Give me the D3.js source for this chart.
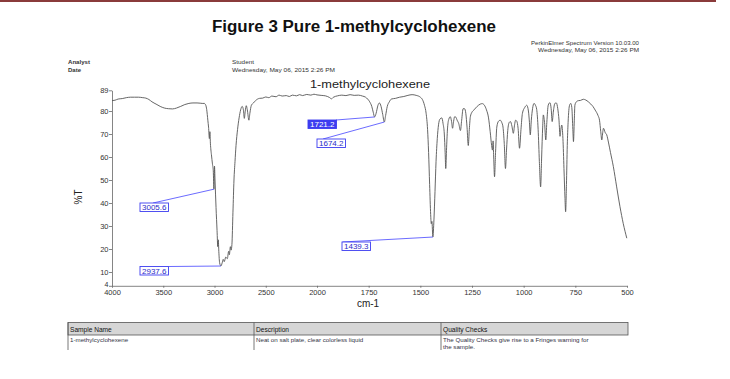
<!DOCTYPE html>
<html><head><meta charset="utf-8">
<script src="https://cdn.jsdelivr.net/npm/d3@7/dist/d3.min.js"></script>
<style>
html,body{margin:0;padding:0;background:#fff;}
svg{display:block;font-family:"Liberation Sans",Arial,sans-serif;}
</style></head>
<body>
<svg id="chart" width="730" height="379"></svg>
<script>
// ---- data ----
const wavenumbers = [4000,3970,3940,3900,3860,3820,3780,3740,3700,3670,3640,3610,3570,3530,3490,3450,3410,3370,3330,3290,3250,3210,3170,3140,3120,3100,3085,3076,3065,3058,3050,3045,3040,3030,3020,3012,3005.6,3000,2995,2985,2975,2968,2963,2958,2950,2937.6,2925,2915,2905,2890,2875,2862,2855,2845,2838,2830,2820,2810,2800,2790,2775,2760,2745,2730,2718,2709,2700,2690,2680,2664,2655,2640,2620,2600,2560,2530,2500,2470,2440,2400,2370,2340,2300,2270,2240,2200,2170,2140,2100,2060,2030,2000,1980,1960,1940,1930,1920,1900,1880,1860,1840,1820,1800,1780,1765,1755,1745,1735,1728,1721.2,1714,1705,1698,1690,1682,1674.2,1668,1660,1650,1640,1620,1600,1580,1560,1540,1520,1500,1490,1480,1472,1465,1460,1455,1450,1447,1444,1439.3,1434,1429,1424,1418,1412,1405,1396,1390,1384,1380,1377,1373,1368,1362,1355,1349,1344,1339,1334,1328,1322,1314,1306,1300,1293,1286,1280,1274,1268,1263,1258,1250,1240,1225,1210,1200,1190,1180,1170,1162,1155,1151,1148,1145,1141,1136,1130,1122,1114,1106,1100,1094,1088,1083,1077,1070,1064,1057,1050,1044,1039,1033,1027,1020,1013,1006,995,985,977,972,968,963,957,950,943,937,930,924,918,913,908,905,899,893,888,881,873,867,862,856,849,842,835,829,824,820,816,810,805,800,797,793,789,785,778,772,767,762,759,755,752,745,735,725,711,700,687,675,665,654,640,633,627,622,617,614,605,598,590,580,566,550,534,518,501];
const transmittance = [84.5,84.7,85.2,85.4,85.8,86,86,86,85.8,85.6,85,84,83,82,81.3,81,80.9,81.3,82,82.8,83.3,83.5,83.5,83.4,83.3,83.3,82.5,80.6,76,73,68,71,66,61,57,54,46,56,50,38,28,21,24,19,14,12.6,14,15.5,14.5,16.5,15.8,19,17.5,21,19.5,22,36,50,58,65,72,77,80.5,82,80.5,76.8,80,82.3,80.5,76,79,82.5,83.5,84.5,85.5,85.6,86.1,85.8,86.5,86.2,86.9,86.5,86.7,86.3,86.9,86.6,87.1,86.7,87.2,86.9,87.3,87,86.8,86.6,85.9,85.3,86,86.6,86.9,86.7,87.1,86.8,86.9,86.5,86,85.2,84,82,79.5,77.4,79,82.5,83.5,82,78.5,75.2,78,82,84,85.2,85.5,86,86.3,86.8,87.1,86.8,86,85,82.5,79,72,62,48,35,31,32,25.2,33,45,58,68,74,76.5,77,74.5,70,62,55,64,73,76.5,77.5,75.5,72.5,75.5,77.5,77.3,76,74.5,71.5,76,81,81,79,73,65,72,77.5,79.5,80.5,82,83,83.2,82.5,80.5,77,71,65,63,67,60,51.4,62,73,75.5,76,75,73,66,55,63,71.5,75,75.4,73.5,70.3,74,76,75.5,72.5,63.8,72,79,81.5,82.5,80,75,69.6,76,81,83.3,82.5,80.7,72,58,47,60,73,78.3,75,67.4,75,82.6,83.6,81,75.4,80,83.3,83.5,81,76,69,72,73.9,68,55,42,36.2,48,65,75,82.5,83.3,81.5,72,66.7,76,82.6,84,84.5,84.6,85.1,84.8,84,83,82,80.4,78,76,71,67.4,71,72.5,70.5,69.6,66.5,62,55.8,47,38.4,31,24.7];
const xTicks = [4000,3500,3000,2500,2000,1750,1500,1250,1000,750,500];
const yTicks = [89,80,70,60,50,40,30,20,10,4];
const peakWn = [3005.6,2937.6,1721.2,1674.2,1439.3];
const peakT = [46,12.6,77.4,75.2,25.2];
const peakLabels = ["3005.6","2937.6","1721.2","1674.2","1439.3"];
const tableHeaders = ["Sample Name","Description","Quality Checks"];
const tableRow = [["1-methylcyclohexene"],["Neat on salt plate, clear colorless liquid"],["The Quality Checks give rise to a Fringes warning for","the sample."]];

// ---- layout (annotation box positions, px) ----
const labelBoxes = [
  {x:140,y:203,lx:153,filled:false},
  {x:140,y:266.5,lx:169,filled:false},
  {x:308,y:120,lx:336,filled:true},
  {x:317,y:139,lx:323,filled:false},
  {x:342,y:242,lx:342.5,filled:false}
];

const svg = d3.select("#chart");
const x = d3.scaleLinear().domain([4000,2000,500]).range([112,317,627]);
const y = d3.scaleLinear().domain([4,89]).range([285.8,90.3]);

// top rule
svg.append("line").attr("x1",0).attr("x2",716).attr("y1",1).attr("y2",1)
  .attr("stroke","#8a3b3b").attr("stroke-width",2);

// title
svg.append("text").attr("x",354).attr("y",32).attr("text-anchor","middle")
  .attr("font-size",16).attr("font-weight","bold").attr("fill","#111")
  .attr("textLength",284).attr("lengthAdjust","spacingAndGlyphs")
  .text("Figure 3 Pure 1-methylcyclohexene");

// header info
const small = (t,xx,yy,anchor,w,bold)=>svg.append("text").attr("x",xx).attr("y",yy)
  .attr("text-anchor",anchor||"start").attr("font-size",5.8).attr("fill","#333")
  .attr("font-weight",bold?"bold":"normal")
  .attr("textLength",w).attr("lengthAdjust","spacingAndGlyphs").text(t);
small("PerkinElmer Spectrum Version 10.03.00",639,45,"end",108);
small("Wednesday, May 06, 2015 2:26 PM",639,52,"end",101);
small("Analyst",68,64,"start",22,true);
small("Date",68,71.5,"start",13,true);
small("Student",232,64,"start",22);
small("Wednesday, May 06, 2015 2:26 PM",232,71.5,"start",103);

svg.append("text").attr("x",370).attr("y",88).attr("text-anchor","middle")
  .attr("font-size",11).attr("fill","#222").attr("textLength",120)
  .attr("lengthAdjust","spacingAndGlyphs").text("1-methylcyclohexene");

// axes
const gy = svg.append("g").attr("transform","translate(112,0)")
  .call(d3.axisLeft(y).tickValues(yTicks).tickSize(3).tickSizeOuter(0).tickFormat(d3.format("d")));
const gx = svg.append("g").attr("transform","translate(0,285.8)")
  .call(d3.axisBottom(x).tickValues(xTicks).tickSize(2).tickSizeOuter(0).tickFormat(d3.format("d")));
[gx,gy].forEach(g=>{
  g.select(".domain").attr("stroke","#666").attr("stroke-width",0.8);
  g.selectAll(".tick line").attr("stroke","#666").attr("stroke-width",0.8);
  g.selectAll(".tick text").attr("font-size",7.5).attr("fill","#333")
    .attr("font-family","Liberation Sans, Arial, sans-serif");
});
gy.selectAll(".tick text").attr("x",-3.5);
gy.selectAll(".tick").filter(d=>d===4).select("text").attr("dy","0.05em").attr("font-size",7);
gx.selectAll(".tick text").attr("y",3.5);

svg.append("text").attr("x",368).attr("y",307).attr("text-anchor","middle")
  .attr("font-size",10).attr("fill","#222").text("cm-1");
svg.append("text").attr("transform","translate(82,197) rotate(-90)")
  .attr("text-anchor","middle").attr("font-size",10).attr("fill","#222").text("%T");

// spectrum
const pts = wavenumbers.map((w,i)=>[w,transmittance[i]]);
svg.append("path").datum(pts)
  .attr("d",d3.line().x(d=>x(d[0])).y(d=>y(d[1])).curve(d3.curveMonotoneX))
  .attr("fill","none").attr("stroke","#555").attr("stroke-width",0.9);

// peak annotations
const ann = svg.append("g");
peakWn.forEach((w,i)=>{
  const b = labelBoxes[i];
  ann.append("line").attr("x1",b.lx).attr("y1",b.y).attr("x2",x(w)).attr("y2",y(peakT[i]))
    .attr("stroke","#5a5aff").attr("stroke-width",0.9);
  ann.append("rect").attr("x",b.x).attr("y",b.y).attr("width",28.5).attr("height",8.5)
    .attr("fill",b.filled?"#3d3df0":"#fff").attr("stroke","#3d3df0").attr("stroke-width",0.9);
  ann.append("text").attr("x",b.x+2).attr("y",b.y+7).attr("font-size",7.3)
    .attr("fill",b.filled?"#fff":"#2b2bc8").attr("textLength",24.5)
    .attr("lengthAdjust","spacingAndGlyphs").text(peakLabels[i]);
});

// table
const colX = [68,254,441,628];
const tHeadY = 322.5, tHeadH = 12.5, tRowH = 15;
const tg = svg.append("g");
tg.append("rect").attr("x",colX[0]).attr("y",tHeadY).attr("width",colX[3]-colX[0]).attr("height",tHeadH)
  .attr("fill","#d6d6d6").attr("stroke","#555").attr("stroke-width",0.8);
tableHeaders.forEach((h,i)=>{
  tg.append("line").attr("x1",colX[i]).attr("x2",colX[i]).attr("y1",tHeadY).attr("y2",tHeadY+tHeadH+tRowH)
    .attr("stroke","#555").attr("stroke-width",0.8);
  tg.append("text").attr("x",colX[i]+2).attr("y",tHeadY+9).attr("font-size",6.6).attr("fill","#111").text(h);
  tableRow[i].forEach((t,j)=>{
    tg.append("text").attr("x",colX[i]+2).attr("y",tHeadY+tHeadH+7+j*6.5).attr("font-size",6.2)
      .attr("fill","#334").text(t);
  });
});
</script>
</body></html>
